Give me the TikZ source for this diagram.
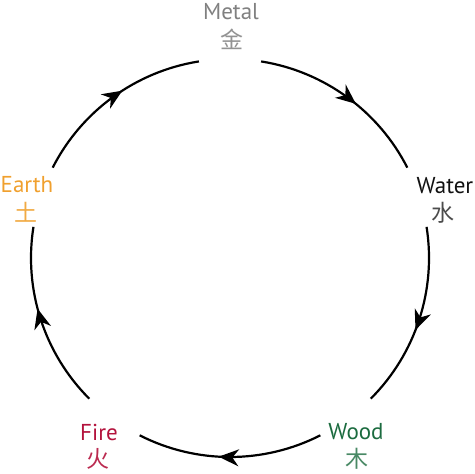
\documentclass[tikz,border=0pt]{standalone}
\usepackage{fontspec}
\setmainfont{PT Sans}
\newfontfamily\cjk{Noto Sans CJK SC}
\usetikzlibrary{arrows.meta,decorations.markings,calc}
\definecolor{metalc}{HTML}{808080}
\definecolor{waterc}{HTML}{111111}
\definecolor{woodc}{HTML}{1B6B3F}
\definecolor{firec}{HTML}{B3123C}
\definecolor{earthc}{HTML}{F0A02E}
\begin{document}
\begin{tikzpicture}[x=0.5pt,y=0.5pt,
  lab/.style={font=\fontsize{11.5}{13}\selectfont, inner sep=0pt},
  zh/.style={font=\cjk\fontsize{11.5}{13}\selectfont, inner sep=0pt},
  flow/.style={line width=1.1pt, postaction={decorate},
    decoration={markings, mark=at position 0.56 with {\arrow{Stealth[length=10pt,width=8.5pt,inset=3.2pt]}}}}]
\useasboundingbox (0,0) rectangle (474,474);
\coordinate (O) at (230,216);
\def\R{99.5pt}
% labels
\node[lab, text=metalc] (metal) at (231,462) {Metal};
\node[zh, text=metalc!85] (metalzh) at (232,435) {金};
\node[lab, text=waterc] (water) at (445,288) {Water};
\node[zh, text=waterc!75] (waterzh) at (443,261) {水};
\node[lab, text=woodc] (wood) at (356,42) {Wood};
\node[zh, text=woodc!80] (woodzh) at (357,15) {木};
\node[lab, text=firec] (fire) at (99,42) {Fire};
\node[zh, text=firec!90] (firezh) at (98,15) {火};
\node[lab, text=earthc] (earth) at (27,289) {Earth};
\node[zh, text=earthc!90] (earthzh) at (26,262) {土};
% arc end points
\coordinate (a1) at ($(O)+(81:\R)$);
\coordinate (a2) at ($(O)+(9:\R)$);
\coordinate (a3) at ($(O)+(-63:\R)$);
\coordinate (a4) at ($(O)+(-135:\R)$);
\coordinate (a5) at ($(O)+(153:\R)$);
\draw[flow] (a1) arc[start angle=81, end angle=27, radius=\R];
\draw[flow] (a2) arc[start angle=9, end angle=-45, radius=\R];
\draw[flow] (a3) arc[start angle=-63, end angle=-117, radius=\R];
\draw[flow] (a4) arc[start angle=-135, end angle=-189, radius=\R];
\draw[flow] (a5) arc[start angle=153, end angle=99, radius=\R];
\end{tikzpicture}
\end{document}
